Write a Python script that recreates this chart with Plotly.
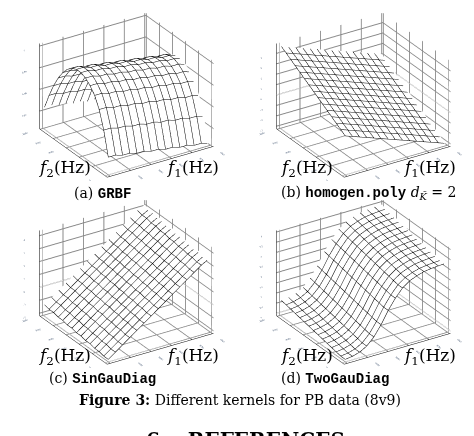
import plotly.graph_objects as go

# grid coordinates (Hz)
f1 = [0, 350, 700, 1050, 1400, 1750, 2100, 2450, 2800, 3150, 3500, 3850, 4200, 4550, 4900]
f2 = [0, 350, 700, 1050, 1400, 1750, 2100, 2450, 2800, 3150, 3500, 3850, 4200, 4550, 4900]

# (a) GRBF: arch across f2, slight tilt along f1
grbf_f2 = [0.970, 0.981, 0.989, 0.994, 0.997, 0.999, 1.000, 1.000, 0.999, 0.997, 0.994, 0.990, 0.985, 0.979, 0.972]
grbf_f1 = [0.000, 0.000, -0.001, -0.001, -0.002, -0.002, -0.003, -0.003, -0.004, -0.004, -0.005, -0.005, -0.006, -0.006, -0.007]
# (b) homogen.poly: tilted plane
poly_f2 = [0.5, 0.8, 1.1, 1.4, 1.7, 2.0, 2.3, 2.6, 2.9, 3.2, 3.5, 3.8, 4.1, 4.4, 4.7]
poly_f1 = [0.0, -0.25, -0.5, -0.75, -1.0, -1.25, -1.5, -1.75, -2.0, -2.25, -2.5, -2.75, -3.0, -3.25, -3.5]
# (c) SinGauDiag: ramp along f1
sin_f1 = [-2.0, -1.6, -1.2, -0.8, -0.4, 0.0, 0.4, 0.8, 1.2, 1.6, 2.0, 2.4, 2.8, 3.2, 3.5]
sin_f2 = [0.0, 0.0, 0.1, 0.1, 0.2, 0.2, 0.3, 0.3, 0.4, 0.4, 0.5, 0.5, 0.6, 0.6, 0.7]
# (d) TwoGauDiag: sigmoid rise along f1
two_f1 = [0.0, 0.05, 0.15, 0.35, 0.7, 1.2, 1.8, 2.3, 2.7, 2.95, 3.1, 3.2, 3.25, 3.28, 3.3]
two_f2 = [0.0, 0.0, 0.05, 0.1, 0.15, 0.2, 0.25, 0.3, 0.35, 0.4, 0.45, 0.5, 0.55, 0.6, 0.65]

def grid(p2, p1):
    return [[p2[j] + p1[i] for i in range(len(f1))] for j in range(len(f2))]

panels = [(grid(grbf_f2, grbf_f1), "scene"), (grid(poly_f2, poly_f1), "scene2"),
          (grid(sin_f2, sin_f1), "scene3"), (grid(two_f2, two_f1), "scene4")]

fig = go.Figure()
for z, sc in panels:
    fig.add_trace(go.Surface(
        x=f1, y=f2, z=z, scene=sc, surfacecolor=[[0]*len(f1) for _ in f2],
        colorscale=[[0, "white"], [1, "white"]], showscale=False,
        lighting=dict(ambient=1, diffuse=0, specular=0),
        contours=dict(x=dict(show=True, color="black", width=1, start=0, end=4900, size=350),
                      y=dict(show=True, color="black", width=1, start=0, end=4900, size=350))))

ax = dict(showbackground=False, gridcolor="#888", showline=True, linecolor="black",
          title=dict(text=""), tickfont=dict(size=5, family="DejaVu Serif"), showspikes=False)
cam = dict(eye=dict(x=-1.05, y=-1.65, z=1.0), projection=dict(type="orthographic"))
def scene(dx, dy):
    return dict(domain=dict(x=dx, y=dy), xaxis=ax, yaxis=ax, zaxis=ax, camera=cam,
                aspectmode="manual", aspectratio=dict(x=1.45, y=1.45, z=1.1))

fig.update_layout(
    width=474, height=436, paper_bgcolor="white", margin=dict(l=0, r=0, t=0, b=0),
    scene=scene([0.0, 0.5], [0.6, 1.0]), scene2=scene([0.5, 1.0], [0.6, 1.0]),
    scene3=scene([0.0, 0.5], [0.17, 0.57]), scene4=scene([0.5, 1.0], [0.17, 0.57]))

F = "DejaVu Serif"
def ann(x, y, t, s=15):
    fig.add_annotation(x=x, y=y, xref="paper", yref="paper", text=t, showarrow=False,
                       font=dict(family=F, size=s, color="black"), xanchor="center", yanchor="middle")
lab1 = "<i>f</i><sub>1</sub>(Hz)"
lab2 = "<i>f</i><sub>2</sub>(Hz)"
for (x2, x1, y) in [(0.12, 0.39, 160), (0.63, 0.89, 160), (0.12, 0.39, 348), (0.63, 0.89, 348)]:
    ann(x2, 1 - y/436, lab2, 17); ann(x1, 1 - y/436, lab1, 17)
ann(0.20, 1 - 185/436, "(a) <b><span style='font-family:Liberation Mono'>GRBF</span></b>", 14)
ann(0.76, 1 - 185/436, "(b) <b><span style='font-family:Liberation Mono'>homogen.poly</span></b> <i>d</i><sub><i>K̃</i></sub> = 2", 14)
ann(0.20, 1 - 370/436, "(c) <b><span style='font-family:Liberation Mono'>SinGauDiag</span></b>", 14)
ann(0.69, 1 - 370/436, "(d) <b><span style='font-family:Liberation Mono'>TwoGauDiag</span></b>", 14)
ann(0.49, 1 - 392/436, "<b>Figure 3:</b> Different kernels for PB data (8v9)", 14)
ann(0.50, 1 - 432/436, "<b>6    REFERENCES</b>", 20)

fig.write_html("out.html")
